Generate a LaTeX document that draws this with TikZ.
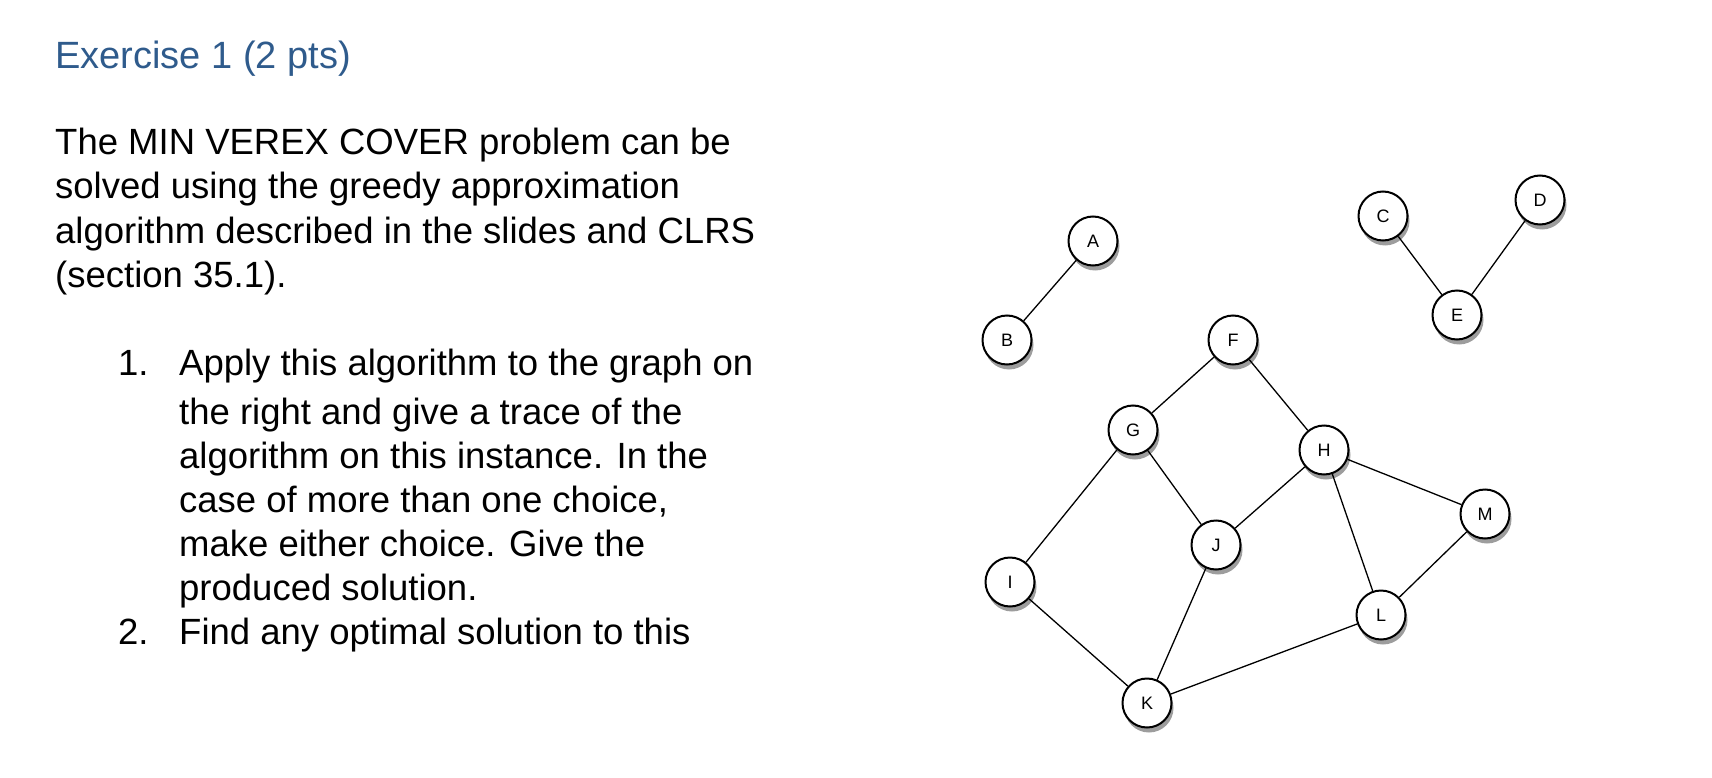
\documentclass[tikz,border=0pt]{standalone}
\usepackage{fontspec}
\setmainfont{Liberation Sans}
\usetikzlibrary{shadows}
\definecolor{titleblue}{HTML}{2F5B8C}
\begin{document}
\begin{tikzpicture}[x=1pt,y=-1pt,
  vtx/.style={circle,draw=black,line width=2pt,fill=white,minimum size=49pt,inner sep=0pt,font=\fontsize{18}{18}\selectfont,
    drop shadow={shadow xshift=2pt,shadow yshift=-5pt,fill=black!55,opacity=0.7}},
  edge/.style={line width=1.3pt},
  txt/.style={anchor=base west,inner sep=0pt,font=\fontsize{36.5}{40}\selectfont}]
\useasboundingbox (0,0) rectangle (1712,778);
\node[txt,text=titleblue,font=\fontsize{38}{40}\selectfont] (t0) at (55,69) {Exercise 1 (2 pts)};
\node[txt] (t1) at (55,155) {The MIN VEREX COVER problem can be};
\node[txt] (t2) at (55,199) {solved using the greedy approximation};
\node[txt] (t3) at (55,243) {algorithm described in the slides and CLRS};
\node[txt] (t4) at (55,287) {(section 35.1).};
\node[txt] (n1) at (118,375) {1.};
\node[txt] (l1) at (179,375) {Apply this algorithm to the graph on};
\node[txt] (l2) at (179,424) {the right and give a trace of the};
\node[txt] (l3) at (179,468) {algorithm on this instance. In the};
\node[txt] (l4) at (179,512) {case of more than one choice,};
\node[txt] (l5) at (179,556) {make either choice. Give the};
\node[txt] (l6) at (179,600) {produced solution.};
\node[txt] (n2) at (118,644) {2.};
\node[txt] (l7) at (179,644) {Find any optimal solution to this};
\node[vtx] (A) at (1093,241) {A};
\node[vtx] (B) at (1007,340) {B};
\node[vtx] (C) at (1383,216) {C};
\node[vtx] (D) at (1540,200) {D};
\node[vtx] (E) at (1457,315) {E};
\node[vtx] (F) at (1233,340) {F};
\node[vtx] (G) at (1133,430) {G};
\node[vtx] (H) at (1324,450) {H};
\node[vtx] (M) at (1485,514) {M};
\node[vtx] (J) at (1216,545) {J};
\node[vtx] (I) at (1010,582) {I};
\node[vtx] (L) at (1381,615) {L};
\node[vtx] (K) at (1147,703) {K};
\foreach \a/\b in {A/B,C/E,D/E,F/G,F/H,G/I,G/J,H/J,H/M,H/L,M/L,J/K,I/K,L/K}
  \draw[edge] (\a) -- (\b);
\end{tikzpicture}
\end{document}
